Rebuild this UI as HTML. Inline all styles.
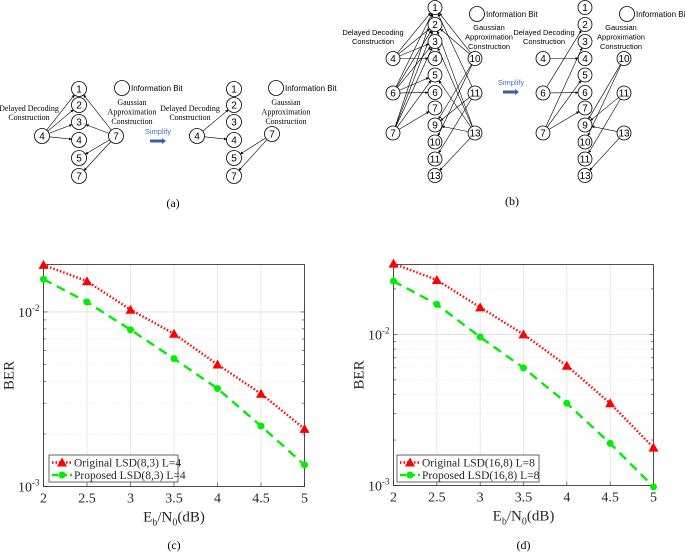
<!DOCTYPE html>
<html><head><meta charset="utf-8"><style>
html,body{margin:0;padding:0;background:#fff;}
svg{display:block;}
.sans{font-family:"Liberation Sans",sans-serif;}
.serif{font-family:"Liberation Serif",serif;}
</style></head><body>
<svg id="fig" width="685" height="552" viewBox="0 0 685 552" xmlns="http://www.w3.org/2000/svg">
<defs>
<marker id="ah" viewBox="0 0 10 10" refX="9" refY="5" markerWidth="5" markerHeight="5" orient="auto"><path d="M0,0 L10,5 L0,10 z" fill="#000"/></marker>
</defs>
<g id="diagrams"></g>
<g id="charts"></g>
</svg>
<script>
// ===== Chart data =====
const xCats = [2, 2.5, 3, 3.5, 4, 4.5, 5];
const xTickLabels = ["2", "2.5", "3", "3.5", "4", "4.5", "5"];
const berOrigC = [0.0186, 0.0150, 0.0103, 0.0075, 0.0050, 0.0034, 0.00214];
const berPropC = [0.0154, 0.0114, 0.0079, 0.0054, 0.00364, 0.00222, 0.00133];
const berOrigD = [0.0294, 0.0229, 0.0151, 0.0100, 0.0062, 0.0035, 0.00178];
const berPropD = [0.0225, 0.0158, 0.0096, 0.0060, 0.0035, 0.0019, 0.00098];
const legendC = ["Original LSD(8,3) L=4", "Proposed LSD(8,3) L=4"];
const legendD = ["Original LSD(16,8) L=8", "Proposed LSD(16,8) L=8"];

const NS = "http://www.w3.org/2000/svg";
function mk(parent, tag, attrs, text) {
  const e = document.createElementNS(NS, tag);
  for (const k in attrs) e.setAttribute(k, attrs[k]);
  if (text !== undefined) e.textContent = text;
  parent.appendChild(e);
  return e;
}

// ===== Diagrams =====
const D = document.getElementById('diagrams');
function node(g, x, y, label, r, name) {
  const grp = mk(g, 'g', {});
  
  
  mk(grp, 'circle', {cx: x, cy: y, r: r, fill: '#fff', stroke: '#000', 'stroke-width': 0.8});
  mk(grp, 'text', {x: x, y: y + 3.5, 'text-anchor': 'middle', 'font-size': 10, class: 'sans'}, label);
}
function edge(g, x1, y1, x2, y2, r) {
  const dx = x2 - x1, dy = y2 - y1, L = Math.hypot(dx, dy);
  const l = mk(g, 'line', {x1: x1 + dx / L * r, y1: y1 + dy / L * r, x2: x2 - dx / L * r, y2: y2 - dy / L * r, stroke: '#000', 'stroke-width': 0.6, 'marker-end': 'url(#ah)'});
  
  
}
function multiText(g, cx, y0, lines, dy, size, fam, name) {
  const t = mk(g, 'text', {'text-anchor': 'middle', 'font-size': size, class: fam});
  
  
  lines.forEach((s, i) => mk(t, 'tspan', {x: cx, y: y0 + i * dy}, s));
}
function infoBit(g, x, y, name) {
  node(g, x, y, '', 7.5, name);
  mk(g, 'text', {x: x + 9, y: y + 3, 'font-size': 8, class: 'sans'}, 'Information Bit');
}
function simplify(g, x, y) {
  const s = mk(g, 'text', {x: x + 8, y: y - 7, 'font-size': 7.5, fill: '#4472c4', 'text-anchor': 'middle', class: 'sans'}, 'Simplify');
  
  
  mk(g, 'path', {d: `M${x} ${y - 1.5} L${x + 12} ${y - 1.5} L${x + 12} ${y - 3} L${x + 16} ${y} L${x + 12} ${y + 3} L${x + 12} ${y + 1.5} L${x} ${y + 1.5} z`, fill: '#3a5fa8'});
}
function graph(g, colX, rows, left, right, edges, r) {
  const pos = {};
  rows.forEach(([lab, y]) => pos['c' + lab] = [colX, y]);
  left.forEach(([lab, x, y]) => pos['l' + lab] = [x, y]);
  right.forEach(([lab, x, y]) => pos['r' + lab] = [x, y]);
  edges.forEach(([a, b]) => edge(g, pos[a][0], pos[a][1], pos[b][0], pos[b][1], r));
  rows.forEach(([lab, y]) => node(g, colX, y, lab, r, 'bit-node-' + lab));
  left.forEach(([lab, x, y]) => node(g, x, y, lab, r, 'delayed-node-' + lab));
  right.forEach(([lab, x, y]) => node(g, x, y, lab, r, 'gaussian-node-' + lab));
}
// (a)
const ga = mk(D, 'g', {});  
const rowsA = [['1', 89], ['2', 105], ['3', 122], ['4', 140], ['5', 158], ['7', 176]];
graph(ga, 79, rowsA, [['4', 42, 136]], [['7', 116, 136]],
  [['l4', 'c1'], ['l4', 'c2'], ['l4', 'c3'], ['l4', 'c4'], ['r7', 'c1'], ['r7', 'c3'], ['r7', 'c5'], ['r7', 'c7']], 7.5);
graph(ga, 234, rowsA, [['4', 197, 136]], [['7', 272, 134]],
  [['l4', 'c2'], ['l4', 'c4'], ['r7', 'c5'], ['r7', 'c7']], 7.5);
infoBit(ga, 122, 88, 'info-bit-legend-a1');
infoBit(ga, 276, 88, 'info-bit-legend-a2');
multiText(ga, 29, 111, ['Delayed Decoding', 'Construction'], 9, 8, 'serif', 'delayed-label-a1');
multiText(ga, 132, 105, ['Gaussian', 'Approximation', 'Construction'], 9.5, 8, 'serif', 'gaussian-label-a1');
multiText(ga, 190, 111, ['Delayed Decoding', 'Construction'], 9, 8, 'serif', 'delayed-label-a2');
multiText(ga, 286, 105, ['Gaussian', 'Approximation', 'Construction'], 9.5, 8, 'serif', 'gaussian-label-a2');
simplify(ga, 150, 141);
mk(ga, 'text', {x: 173, y: 207, 'font-size': 12, 'text-anchor': 'middle', class: 'serif'}, '(a)');
// (b)
const gb = mk(D, 'g', {});  
const rowsB = [['1', 7.5], ['2', 24.5], ['3', 41.5], ['4', 58.5], ['5', 75], ['6', 92.5], ['7', 108], ['9', 125], ['10', 142], ['11', 159], ['13', 175.5]];
graph(gb, 435, rowsB, [['4', 393, 58.5], ['6', 393, 93], ['7', 393, 133]], [['10', 475, 58.5], ['11', 475, 93], ['13', 475, 133]],
  [['l4', 'c1'], ['l4', 'c2'], ['l4', 'c3'], ['l4', 'c4'], ['l6', 'c1'], ['l6', 'c2'], ['l6', 'c3'], ['l6', 'c5'], ['l6', 'c6'],
   ['l7', 'c1'], ['l7', 'c2'], ['l7', 'c3'], ['l7', 'c5'], ['l7', 'c7'],
   ['r10', 'c1'], ['r10', 'c2'], ['r10', 'c9'], ['r10', 'c10'], ['r11', 'c1'], ['r11', 'c9'], ['r11', 'c11'],
   ['r13', 'c2'], ['r13', 'c3'], ['r13', 'c5'], ['r13', 'c9'], ['r13', 'c13']], 7);
graph(gb, 585, rowsB, [['4', 543, 58.5], ['6', 543, 93], ['7', 543, 133]], [['10', 624, 58.5], ['11', 624, 93], ['13', 624, 133]],
  [['l4', 'c4'], ['l6', 'c2'], ['l6', 'c6'], ['l7', 'c3'], ['l7', 'c5'], ['l7', 'c7'],
   ['r10', 'c9'], ['r10', 'c10'], ['r11', 'c9'], ['r11', 'c11'], ['r13', 'c9'], ['r13', 'c13']], 7);
infoBit(gb, 477, 14, 'info-bit-legend-b1');
infoBit(gb, 627, 14, 'info-bit-legend-b2');
multiText(gb, 373, 35, ['Delayed Decoding', 'Construction'], 9, 7.5, 'sans', 'delayed-label-b1');
multiText(gb, 489, 30, ['Gaussian', 'Approximation', 'Construction'], 9.5, 7.5, 'sans', 'gaussian-label-b1');
multiText(gb, 544, 35, ['Delayed Decoding', 'Construction'], 9, 7.5, 'sans', 'delayed-label-b2');
multiText(gb, 621, 30, ['Gaussian', 'Approximation', 'Construction'], 9.5, 7.5, 'sans', 'gaussian-label-b2');
simplify(gb, 503, 92);
mk(gb, 'text', {x: 512, y: 205, 'font-size': 12, 'text-anchor': 'middle', class: 'serif'}, '(b)');

// ===== Charts =====
const C = document.getElementById('charts');
function chart(name, box, yMin, yMax, orig, prop, legend, leg, cap) {
  const g = mk(C, 'g', {});
  
  
  const [L, T, R, B] = box;
  const xs = v => L + (v - 2) / 3 * (R - L);
  const ys = v => B - (Math.log10(v) - Math.log10(yMin)) / (Math.log10(yMax) - Math.log10(yMin)) * (B - T);
  mk(g, 'rect', {x: L, y: T, width: R - L, height: B - T, fill: '#fff'});
  xCats.forEach(v => { const gl = mk(g, 'line', {x1: xs(v), x2: xs(v), y1: T, y2: B, stroke: '#e2e2e2', 'stroke-width': 0.8});
      });
  for (let d = -3; d <= -1; d++) for (let m = 1; m <= 9; m++) {
    const v = m * Math.pow(10, d);
    if (v < yMin * 0.999 || v > yMax) continue;
    const gl = mk(g, 'line', {x1: L, x2: R, y1: ys(v), y2: ys(v), stroke: m === 1 ? '#dcdcdc' : '#ececec', 'stroke-width': 0.8, 'stroke-dasharray': m === 1 ? '' : '1.5,1.5'});
     
    mk(g, 'line', {x1: L, x2: L + (m === 1 ? 4 : 2.5), y1: ys(v), y2: ys(v), stroke: '#333', 'stroke-width': 0.6});
    mk(g, 'line', {x1: R, x2: R - (m === 1 ? 4 : 2.5), y1: ys(v), y2: ys(v), stroke: '#333', 'stroke-width': 0.6});
    if (m === 1) {
      const t = mk(g, 'text', {x: L - 4, y: ys(v) + 5, 'text-anchor': 'end', 'font-size': 14, class: 'serif', fill: '#262626'});
       
      mk(t, 'tspan', {}, '10');
      mk(t, 'tspan', {dy: -6, 'font-size': 9}, String(d));
    }
  }
  mk(g, 'rect', {x: L, y: T, width: R - L, height: B - T, fill: 'none', stroke: '#262626', 'stroke-width': 0.8});
  xCats.forEach((v, i) => {
    mk(g, 'line', {x1: xs(v), x2: xs(v), y1: B, y2: B - 4, stroke: '#333', 'stroke-width': 0.6});
    const t = mk(g, 'text', {x: xs(v), y: B + 16, 'text-anchor': 'middle', 'font-size': 14, class: 'serif', fill: '#262626'}, xTickLabels[i]);
     
  });
  const xl = mk(g, 'text', {x: (L + R) / 2, y: B + 35, 'text-anchor': 'middle', 'font-size': 15, class: 'serif', fill: '#262626'});
   
  mk(xl, 'tspan', {}, 'E'); mk(xl, 'tspan', {dy: 4, 'font-size': 10}, 'b'); mk(xl, 'tspan', {dy: -4}, '/N');
  mk(xl, 'tspan', {dy: 4, 'font-size': 10}, '0'); mk(xl, 'tspan', {dy: -4}, '(dB)');
  const yl = mk(g, 'text', {x: 0, y: 0, transform: `translate(${L - 30},${(T + B) / 2}) rotate(-90)`, 'text-anchor': 'middle', 'font-size': 15, class: 'serif', fill: '#262626'}, 'BER');
   
  const pts = arr => arr.map((v, i) => xs(xCats[i]) + ',' + ys(v)).join(' ');
  const lo = mk(g, 'polyline', {points: pts(orig), fill: 'none', stroke: '#ff0000', 'stroke-width': 2.4, 'stroke-dasharray': '1.5,2'});
   
  const lp = mk(g, 'polyline', {points: pts(prop), fill: 'none', stroke: '#00ee00', 'stroke-width': 2.4, 'stroke-dasharray': '9,6'});
   
  const tri = (x, y) => `${x},${y - 5} ${x - 5},${y + 4} ${x + 5},${y + 4}`;
  orig.forEach((v, i) => { const p = mk(g, 'polygon', {points: tri(xs(xCats[i]), ys(v)), fill: '#ff0000'});
      });
  prop.forEach((v, i) => { const p = mk(g, 'circle', {cx: xs(xCats[i]), cy: ys(v), r: 3.5, fill: '#00ee00'});
      });
  const lg = mk(g, 'g', {});
   
  mk(lg, 'rect', {x: leg[0], y: leg[1], width: leg[2], height: leg[3], fill: '#fff', stroke: '#262626', 'stroke-width': 0.7});
  const y1 = leg[1] + 7.5, y2 = leg[1] + 20, lx = leg[0] + 3;
  mk(lg, 'line', {x1: lx, x2: lx + 20, y1: y1, y2: y1, stroke: '#ff0000', 'stroke-width': 2.4, 'stroke-dasharray': '1.5,2'});
  mk(lg, 'polygon', {points: tri(lx + 10, y1), fill: '#ff0000'});
  mk(lg, 'line', {x1: lx, x2: lx + 20, y1: y2, y2: y2, stroke: '#00ee00', 'stroke-width': 2.4, 'stroke-dasharray': '6,3'});
  mk(lg, 'circle', {cx: lx + 10, cy: y2, r: 3.5, fill: '#00ee00'});
  const e1 = mk(lg, 'text', {x: lx + 22, y: y1 + 4, 'font-size': 11.5, class: 'serif', fill: '#262626'}, legend[0]);
   
  const e2 = mk(lg, 'text', {x: lx + 22, y: y2 + 4, 'font-size': 11.5, class: 'serif', fill: '#262626'}, legend[1]);
   
  const cp = mk(g, 'text', {x: (L + R) / 2, y: 549, 'text-anchor': 'middle', 'font-size': 12, class: 'serif'}, cap);
   
}
chart('chart-c', [43.5, 264.5, 304.5, 486.5], 0.001, 0.0187, berOrigC, berPropC, legendC, [49, 455, 129, 27], '(c)');
chart('chart-d', [393.5, 264.5, 653.5, 485.5], 0.001, 0.029, berOrigD, berPropD, legendD, [397, 455, 142, 27], '(d)');
</script>
</body></html>
